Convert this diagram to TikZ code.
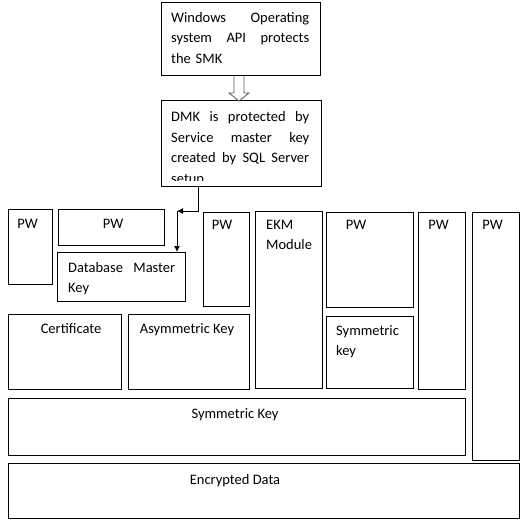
\documentclass[tikz,border=0pt]{standalone}
\usepackage{fontspec}
\setmainfont{Carlito}
\usetikzlibrary{arrows.meta}

\newcommand{\wsp}{\hskip 0pt plus 1fill\relax}

\begin{document}
\begin{tikzpicture}[
    x=1pt, y=-1pt,
    >={Latex[length=6pt,width=6pt]},
    box/.style={draw, line width=1pt, anchor=north west, inner sep=0pt, outer sep=0pt},
    txt/.style={inner sep=0pt, font=\fontsize{14.5}{20.5}\selectfont},
    hollow/.style={draw=gray!70!black, line width=0.8pt, line join=miter}
]
\useasboundingbox (0,0) rectangle (527,524);

% key chain at the top
\node[box, minimum width=159, minimum height=73] (win) at (161,3) {};
\node[box, minimum width=160, minimum height=85] (dmk) at (161,101) {};
\node[txt, text width=138, align=left, anchor=north west] (wintext) at (171,12)
    {Windows\wsp Operating\\system\wsp API\wsp protects\\the SMK};
\begin{scope}
\clip (161,101) rectangle (321,180);
\node[txt, text width=138, align=left, anchor=north west] (dmktext) at (171,111.5)
    {DMK\wsp is\wsp protected\wsp by\\Service\wsp master\wsp key\\created\wsp by\wsp SQL\wsp Server\\setup};
\end{scope}

\coordinate (arrtop) at ([xshift=-1.5pt]win.south);
\draw[hollow] (arrtop) ++(-5,0) -- ++(0,17) -- ++(-5,0) -- ++(10,8) -- ++(10,-8) -- ++(-5,0) -- ++(0,-17);

% boxes
\node[box, minimum width=44, minimum height=75] (pwa) at (8,209) {};
\node[box, minimum width=106, minimum height=36] (pwb) at (58,209) {};
\node[box, minimum width=128, minimum height=49] (dbmk) at (57,252) {};
\node[box, minimum width=46, minimum height=94] (pwc) at (203,212) {};
\node[box, minimum width=113, minimum height=75] (cert) at (8,314) {};
\node[box, minimum width=121, minimum height=75] (asym) at (128,314) {};
\node[box, minimum width=67, minimum height=177] (ekm) at (255,211) {};
\node[box, minimum width=87, minimum height=95] (pwd) at (326,212) {};
\node[box, minimum width=87, minimum height=72] (symk) at (326,316) {};
\node[box, minimum width=47, minimum height=177] (pwe) at (418,212) {};
\node[box, minimum width=47, minimum height=248] (pwf) at (472,212) {};
\node[box, minimum width=457, minimum height=57] (sym) at (8,398) {};
\node[box, minimum width=511, minimum height=55] (enc) at (8,463) {};

% labels
\node[txt, anchor=base] (pwatext) at (27.5,228) {PW};
\node[txt, anchor=base] (pwbtext) at (113,228) {PW};
\node[txt, anchor=base] (pwctext) at (222,229) {PW};
\node[txt, anchor=base] (pwdtext) at (356,229) {PW};
\node[txt, anchor=base] (pwetext) at (438.5,229) {PW};
\node[txt, anchor=base] (pwftext) at (492.5,229) {PW};
\node[txt, text width=107, align=left, anchor=north west] (dbmktext) at (68,262)
    {Database\wsp Master\\Key};
\node[txt, anchor=base] (certtext) at (71,333) {Certificate};
\node[txt, anchor=base] (asymtext) at (187,333) {Asymmetric Key};
\node[txt, align=left, anchor=north west] (ekmtext) at (266,219.5) {EKM\\Module};
\node[txt, align=left, anchor=north west] (symktext) at (336,325) {Symmetric\\key};
\node[txt, anchor=base] (symtext) at (235,418) {Symmetric Key};
\node[txt, anchor=base] (enctext) at (235,484) {Encrypted Data};

% DMK protects the database master key
\coordinate (bend) at (177,211);
\draw[->, line width=1pt] ([xshift=-43pt]dmk.south) |- (bend);
\draw[->, line width=1pt] (bend) -- (bend |- dbmk.north);
\end{tikzpicture}
\end{document}
